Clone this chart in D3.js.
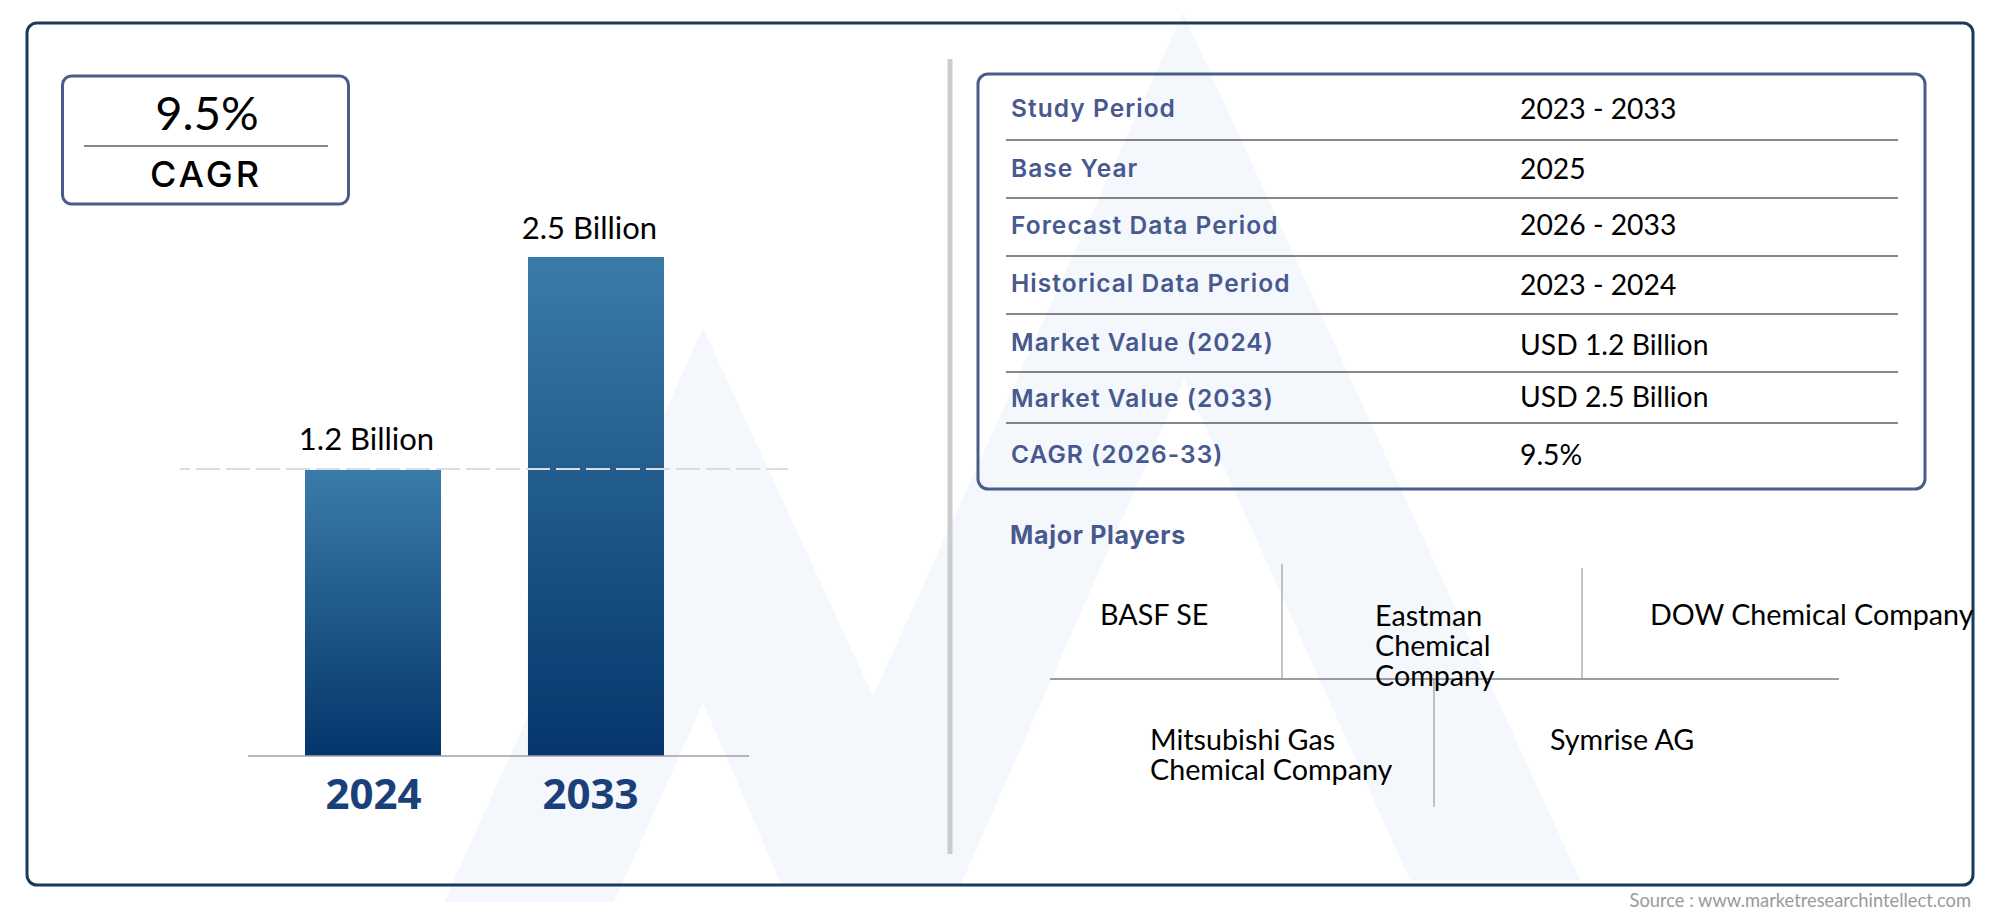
<!DOCTYPE html>
<html>
<head>
<meta charset="utf-8">
<title>Market overview</title>
<script src="https://cdn.jsdelivr.net/npm/d3@7/dist/d3.min.js"></script>
<style>
  html, body { margin: 0; padding: 0; background: #fff; overflow: hidden; }
  svg { display: block; }
</style>
</head>
<body>
<svg id="chart" width="2000" height="917"></svg>
<script>
// chart values
const years = ['2024', '2033'];
const marketValues = [1.2, 2.5];
const valueLabels = ['1.2 Billion', '2.5 Billion'];
const cagrValue = '9.5%';
const cagrLabel = 'CAGR';

const tableLabels = ['Study Period', 'Base Year', 'Forecast Data Period', 'Historical Data Period',
  'Market Value (2024)', 'Market Value (2033)', 'CAGR (2026-33)'];
const tableValues = ['2023 - 2033', '2025', '2026 - 2033', '2023 - 2024',
  'USD 1.2 Billion', 'USD 2.5 Billion', '9.5%'];

const playersTitle = 'Major Players';
const players = [['BASF SE'], ['Eastman', 'Chemical', 'Company'], ['DOW Chemical Company'],
  ['Mitsubishi Gas', 'Chemical Company'], ['Symrise AG']];
const sourceNote = 'Source : www.marketresearchintellect.com';

// layout, in page pixels
const labelFont = 'Lato, sans-serif';
const headFont = 'Inter, sans-serif';
const boxColor = '#4a5c8a';
const frameColor = '#1b3a57';
const headColor = '#47598f';
const baseY = 756;

const svg = d3.select('#chart');

// bars fade from steel blue at the top to navy at the bottom
const grad = svg.append('defs').append('linearGradient')
  .attr('id', 'barFill').attr('x1', 0).attr('y1', 0).attr('x2', 0).attr('y2', 1);
grad.append('stop').attr('offset', '0%').attr('stop-color', '#3a7ca9');
grad.append('stop').attr('offset', '100%').attr('stop-color', '#05356c');

// pale logo behind everything
const markPath = d3.line();
svg.append('path')
  .attr('d', markPath([[703, 328], [444, 902], [614, 902], [703, 703], [782, 886], [960, 886],
    [1184, 379], [1410, 880], [1580, 880], [1183, 13], [873, 696]]) + 'Z')
  .attr('fill', '#f4f7fb');

// outer frame
svg.append('rect')
  .attr('x', 27).attr('y', 23).attr('width', 1946).attr('height', 862).attr('rx', 10)
  .attr('fill', 'none').attr('stroke', frameColor).attr('stroke-width', 3);

// divider between the two halves
svg.append('line')
  .attr('x1', 950).attr('x2', 950).attr('y1', 59).attr('y2', 854)
  .attr('stroke', '#cccccc').attr('stroke-width', 5);

// CAGR box
svg.append('rect')
  .attr('x', 62.5).attr('y', 76).attr('width', 286).attr('height', 128).attr('rx', 9)
  .attr('fill', '#fff').attr('stroke', boxColor).attr('stroke-width', 3);
svg.append('line')
  .attr('x1', 84).attr('x2', 328).attr('y1', 146).attr('y2', 146)
  .attr('stroke', '#111').attr('stroke-width', 1);
svg.append('text')
  .attr('x', 207).attr('y', 130).attr('text-anchor', 'middle')
  .style('font-family', labelFont).style('font-size', '47px').style('font-weight', 400)
  .text(cagrValue);
svg.append('text')
  .attr('x', 206).attr('y', 187).attr('text-anchor', 'middle')
  .style('font-family', headFont).style('font-size', '36px').style('font-weight', 500)
  .style('letter-spacing', '3px')
  .text(cagrLabel);

// the bars in the source are not drawn from zero, so the domain starts below it
const x = d3.scaleBand().domain(years).range([305, 664]).paddingInner(0.39);
const y = d3.scaleLinear().domain([-0.546, 2.5]).range([baseY, 257]);
const tickX = d3.scalePoint().domain(years).range([373, 590]);
const labelGap = [20, 18];

svg.append('g').selectAll('rect')
  .data(years)
  .join('rect')
  .attr('x', (d) => x(d))
  .attr('y', (d, i) => y(marketValues[i]))
  .attr('width', x.bandwidth())
  .attr('height', (d, i) => baseY - y(marketValues[i]))
  .attr('fill', 'url(#barFill)');

svg.append('line')
  .attr('x1', 248).attr('x2', 749).attr('y1', baseY).attr('y2', baseY)
  .attr('stroke', '#a0a0a8').attr('stroke-width', 1.5);

// dashed level line at the 2024 value
svg.append('line')
  .attr('x1', 180).attr('x2', 788).attr('y1', y(marketValues[0]) - 1).attr('y2', y(marketValues[0]) - 1)
  .attr('stroke', '#d9dde2').attr('stroke-width', 2).attr('stroke-dasharray', '24 6')
  .attr('stroke-dashoffset', 14);

svg.append('g').selectAll('text')
  .data(years)
  .join('text')
  .attr('x', (d) => x(d) + x.bandwidth() / 2 - 6.5)
  .attr('y', (d, i) => y(marketValues[i]) - labelGap[i])
  .attr('text-anchor', 'middle')
  .style('font-family', labelFont).style('font-size', '31px')
  .text((d, i) => valueLabels[i]);

const axis = svg.append('g')
  .attr('transform', `translate(0,${baseY})`)
  .call(d3.axisBottom(tickX).tickSize(0).tickPadding(0));
axis.select('.domain').remove();
axis.selectAll('text')
  .attr('y', 53).attr('dy', 0)
  .attr('fill', '#1a4079')
  .style('font-family', '"Open Sans", sans-serif').style('font-size', '42px').style('font-weight', 700);

// info table
const labelBase = [117, 177, 234, 292, 351, 407, 463];
const valueBase = [119, 179, 235, 295, 355, 407, 465];
const ruleY = [140, 198, 256, 314, 372, 423];

svg.append('rect')
  .attr('x', 978).attr('y', 74).attr('width', 947).attr('height', 415).attr('rx', 10)
  .attr('fill', 'none').attr('stroke', boxColor).attr('stroke-width', 3);

svg.append('g').selectAll('line')
  .data(ruleY)
  .join('line')
  .attr('x1', 1006).attr('x2', 1898).attr('y1', (d) => d).attr('y2', (d) => d)
  .attr('stroke', '#111').attr('stroke-width', 1);

svg.append('g').selectAll('text')
  .data(tableLabels)
  .join('text')
  .attr('x', 1011)
  .attr('y', (d, i) => labelBase[i])
  .attr('fill', headColor)
  .style('font-family', headFont).style('font-size', '24.5px').style('font-weight', 600)
  .style('letter-spacing', '1.05px')
  .text((d) => d);

svg.append('g').selectAll('text')
  .data(tableValues)
  .join('text')
  .attr('x', 1520)
  .attr('y', (d, i) => valueBase[i])
  .style('font-family', labelFont).style('font-size', '28.3px')
  .text((d) => d);

// major players block
svg.append('text')
  .attr('x', 1010).attr('y', 544)
  .attr('fill', headColor)
  .style('font-family', headFont).style('font-size', '25px').style('font-weight', 700)
  .style('letter-spacing', '0.7px')
  .text(playersTitle);

const playerX = [1100, 1375, 1650, 1150, 1550];
const playerY = [625, 626, 625, 750, 750];
const lineGap = 30;

const dividers = [[1282, 564, 678], [1582, 568, 678], [1434, 679, 807]];
svg.append('g').selectAll('line')
  .data(dividers)
  .join('line')
  .attr('x1', (d) => d[0]).attr('x2', (d) => d[0])
  .attr('y1', (d) => d[1]).attr('y2', (d) => d[2])
  .attr('stroke', '#8a8a8a').attr('stroke-width', 1);
svg.append('line')
  .attr('x1', 1050).attr('x2', 1839).attr('y1', 679).attr('y2', 679)
  .attr('stroke', '#7d7d7d').attr('stroke-width', 1.5);

svg.append('g').selectAll('text')
  .data(players)
  .join('text')
  .attr('y', (d, i) => playerY[i])
  .style('font-family', labelFont).style('font-size', '28.7px')
  .each(function (d, i) {
    d3.select(this).selectAll('tspan')
      .data(d)
      .join('tspan')
      .attr('x', playerX[i])
      .attr('y', (line, j) => playerY[i] + j * lineGap)
      .text((line) => line);
  });

svg.append('text')
  .attr('x', 1971).attr('y', 907).attr('text-anchor', 'end')
  .attr('fill', '#9a9a9a')
  .style('font-family', labelFont).style('font-size', '18.3px')
  .text(sourceNote);
</script>
</body>
</html>
